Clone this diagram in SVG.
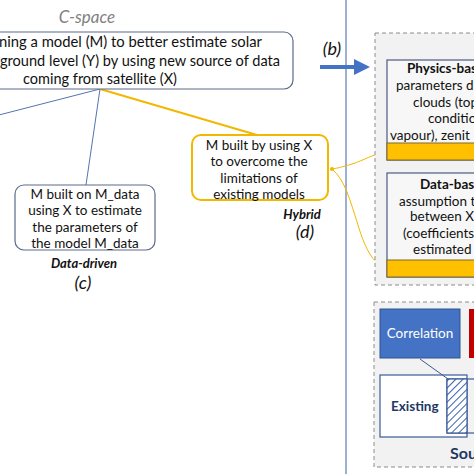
<svg xmlns="http://www.w3.org/2000/svg" width="474" height="474" viewBox="0 0 474 474">
<style>
.t{font-family:Lato,"Liberation Sans",sans-serif;font-size:13.5px;fill:#111}
.c{text-anchor:middle}
.bi{font-weight:bold;font-style:italic;font-size:13px}
.it{font-style:italic;font-size:18px}
.b{font-weight:bold}
.blue{stroke:#5573b0;stroke-width:1;fill:none}
.yel{stroke:#f2b800;fill:none}
.dash{fill:#f2f2f2;stroke:#8c8c8c;stroke-width:1;stroke-dasharray:4 3}
.bar{fill:#ffc000;stroke:#7f6a2a;stroke-width:1}
</style>
<defs>
<pattern id="hatch" width="5" height="5" patternUnits="userSpaceOnUse" patternTransform="rotate(45)">
<rect width="5" height="5" fill="#fff"/>
<line x1="0" y1="0" x2="0" y2="5" stroke="#3a63b0" stroke-width="2"/>
</pattern>
<marker id="ah" markerWidth="4" markerHeight="4" refX="2" refY="2" orient="auto" markerUnits="strokeWidth">
<path d="M0,0 L4,2 L0,4 z" fill="#4472c4"/>
</marker>
</defs>
<rect width="474" height="474" fill="#fff"/>
<text x="87" y="23" class="t c" style="font-style:italic;font-size:17px;fill:#7f7f7f">C-space</text>
<g id="connectors">
<line x1="346" y1="0" x2="346" y2="474" stroke="#5b7bb5" stroke-width="1.2"/>
<line x1="100" y1="89" x2="-5" y2="116" class="blue"/>
<line x1="100" y1="89" x2="86" y2="185" class="blue"/>
<line x1="100" y1="89" x2="257" y2="135" class="yel" stroke-width="2"/>
<path d="M388,152 C372,154 365,160 352,164 C342,167 338,168 332,169" class="yel" stroke-width="1"/>
<path d="M332,169 C345,180 350,200 358,225 C366,252 375,266 388,268" class="yel" stroke-width="1"/>
<circle cx="332" cy="169" r="2" fill="#f2b800"/>
<line x1="320" y1="67" x2="362" y2="67" stroke="#4472c4" stroke-width="4" marker-end="url(#ah)"/>
</g>
<g id="main">
<rect x="-10" y="32" width="303" height="57" rx="9" fill="#fff" stroke="#5a6b8c" stroke-width="1.2"/>
<text x="-1" y="47" class="t" style="font-size:15px" textLength="263" lengthAdjust="spacingAndGlyphs">ning a model (M) to better estimate solar</text>
<text x="0" y="66" class="t" style="font-size:15px" textLength="280" lengthAdjust="spacingAndGlyphs">ground level (Y) by using new source of data</text>
<text x="100" y="84" class="t c" style="font-size:15px" textLength="154" lengthAdjust="spacingAndGlyphs">coming from satellite (X)</text>
</g>
<g id="data-driven">
<rect x="15" y="185" width="140" height="65" rx="9" fill="#fff" stroke="#5a6b8c" stroke-width="1.2"/>
<text x="85" y="199" class="t c">M built on M_data</text>
<text x="85" y="215" class="t c">using X to estimate</text>
<text x="85" y="232" class="t c">the parameters of</text>
<text x="85" y="248" class="t c">the model M_data</text>
<text x="84" y="268" class="t c bi">Data-driven</text>
<text x="83" y="289" class="t c it">(c)</text>
</g>
<g id="hybrid">
<rect x="192" y="135" width="136" height="65" rx="9" fill="#fff" stroke="#f2b800" stroke-width="2"/>
<text x="259" y="150" class="t c">M built by using X</text>
<text x="259" y="166" class="t c">to overcome the</text>
<text x="259" y="183" class="t c">limitations of</text>
<text x="259" y="199" class="t c">existing models</text>
<text x="302" y="219" class="t c bi">Hybrid</text>
<text x="305" y="238" class="t c it">(d)</text>
</g>
<text x="332" y="55" class="t c it">(b)</text>
<g id="methods">
<rect x="375" y="33" width="110" height="252" class="dash"/>
<g id="physics">
<rect x="387" y="60" width="100" height="100" fill="#f7f7f7" stroke="#4a5a80" stroke-width="1.2"/>
<rect x="387" y="143" width="100" height="17" class="bar"/>
<text x="407" y="73" class="t b">Physics-bas</text>
<text x="396" y="90" class="t">parameters de</text>
<text x="413" y="107" class="t">clouds (top H</text>
<text x="428" y="123" class="t">conditions</text>
<text x="390" y="140" class="t">vapour), zenit</text>
</g>
<g id="databased">
<rect x="387" y="173" width="100" height="104" fill="#f7f7f7" stroke="#4a5a80" stroke-width="1.2"/>
<rect x="387" y="260" width="100" height="17" class="bar"/>
<text x="420" y="189" class="t b">Data-bas</text>
<text x="399" y="206" class="t">assumption th</text>
<text x="410" y="221" class="t">between X</text>
<text x="403" y="238" class="t">(coefficients</text>
<text x="413" y="254" class="t">estimated</text>
</g>
</g>
<g id="sources">
<rect x="374" y="302" width="110" height="165" class="dash"/>
<g id="correlation">
<rect x="380" y="309" width="80" height="49" fill="#4472c4" stroke="#2f528f" stroke-width="1"/>
<text x="420" y="338" class="t c" style="fill:#fff">Correlation</text>
</g>
<rect x="469" y="309" width="20" height="49" fill="#c00000"/>
<g id="existing">
<rect x="380" y="375" width="87" height="62" fill="#fff" stroke="#3a5a99" stroke-width="1.2"/>
<text x="391" y="411" class="t b" style="fill:#1f3864">Existing</text>
</g>
<rect x="447" y="379" width="40" height="54" fill="none" stroke="#3a5a99" stroke-width="1.2"/>
<rect x="447" y="379" width="20" height="54" fill="url(#hatch)" stroke="#3a5a99" stroke-width="1.2"/>
<line x1="420" y1="359" x2="448" y2="379" stroke="#3a5a99" stroke-width="1"/>
<text x="450" y="459" class="t b" style="font-size:16px;fill:#1f3864">Sou</text>
</g>
</svg>
